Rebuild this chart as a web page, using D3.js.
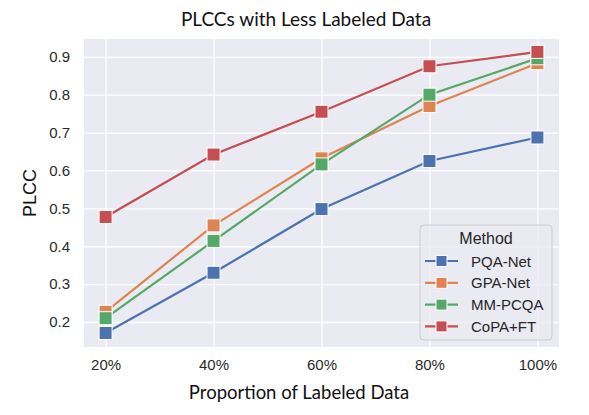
<!DOCTYPE html>
<meta charset="utf-8">
<script src="https://d3js.org/d3.v7.min.js"></script>
<style>
  body { margin: 0; background: #fff; }
</style>
<div id="chart"></div>
<script>
// data
var proportions = ["20%", "40%", "60%", "80%", "100%"];
var methods = ["PQA-Net", "GPA-Net", "MM-PCQA", "CoPA+FT"];
var pqaNet  = [0.171, 0.330, 0.498, 0.625, 0.687];
var gpaNet  = [0.227, 0.455, 0.632, 0.770, 0.883];
var mmPcqa  = [0.210, 0.414, 0.616, 0.800, 0.896];
var copaFt  = [0.477, 0.642, 0.755, 0.875, 0.913];
var yTicks  = [0.2, 0.3, 0.4, 0.5, 0.6, 0.7, 0.8, 0.9];
var colors  = ["#4C72B0", "#DD8452", "#55A868", "#C44E52"];

var series = [pqaNet, gpaNet, mmPcqa, copaFt];

var W = 589, H = 415;
var margin = {top: 39, right: 30, bottom: 68, left: 84},
    width = W - margin.left - margin.right,
    height = H - margin.top - margin.bottom;

var svg = d3.select("#chart").append("svg")
    .attr("width", W)
    .attr("height", H);

var g = svg.append("g")
    .attr("transform", "translate(" + margin.left + "," + margin.top + ")");

// seaborn darkgrid background
g.append("rect")
    .attr("width", width)
    .attr("height", height)
    .style("fill", "#EAEAF2");

var x = d3.scalePoint()
    .domain(proportions)
    .range([0, width])
    .padding(0.2);

var y = d3.scaleLinear()
    .domain([0.134, 0.947])
    .range([height, 0]);

// axes, grid lines as white ticks
var xAxis = g.append("g")
    .attr("transform", "translate(0," + height + ")")
    .call(d3.axisBottom(x).tickSize(-height).tickPadding(12));
xAxis.select(".domain").remove();

var yAxis = g.append("g")
    .call(d3.axisLeft(y).tickValues(yTicks).tickFormat(d3.format(".1f")).tickSize(-width).tickPadding(14));
yAxis.select(".domain").remove();

g.selectAll(".tick line").attr("stroke", "#fff").attr("stroke-width", 1.3);
g.selectAll(".tick text")
    .style("font-family", "'Liberation Sans', Arial, sans-serif")
    .style("font-size", "15px")
    .style("fill", "#2a2a2a");

// lines
var line = d3.line()
    .x(function(d, i) { return x(proportions[i]); })
    .y(function(d) { return y(d); });

series.forEach(function(s, k) {
  g.append("path")
      .datum(s)
      .attr("d", line)
      .attr("fill", "none")
      .attr("stroke", colors[k])
      .attr("stroke-width", 2.2);
});

// square markers
var ms = 13;
series.forEach(function(s, k) {
  g.append("g").selectAll("rect")
    .data(s)
    .enter()
    .append("rect")
      .attr("x", function(d, i) { return x(proportions[i]) - ms / 2; })
      .attr("y", function(d) { return y(d) - ms / 2; })
      .attr("width", ms)
      .attr("height", ms)
      .attr("fill", colors[k])
      .attr("stroke", "#fff")
      .attr("stroke-width", 1);
});

// title and axis labels
svg.append("text")
    .attr("x", 306)
    .attr("y", 26)
    .attr("text-anchor", "middle")
    .style("font-family", "Lato, sans-serif")
    .style("font-size", "19px")
    .style("fill", "#111")
    .text("PLCCs with Less Labeled Data");

svg.append("text")
    .attr("x", 299)
    .attr("y", 399)
    .attr("text-anchor", "middle")
    .style("font-family", "Lato, sans-serif")
    .style("font-size", "18.5px")
    .style("fill", "#111")
    .text("Proportion of Labeled Data");

svg.append("text")
    .attr("transform", "translate(36,193) rotate(-90)")
    .attr("text-anchor", "middle")
    .style("font-family", "'Liberation Sans', Arial, sans-serif")
    .style("font-size", "18px")
    .style("fill", "#111")
    .text("PLCC");

// legend
var lg = svg.append("g").attr("transform", "translate(420,225)");
lg.append("rect")
    .attr("width", 132)
    .attr("height", 115)
    .attr("rx", 4)
    .style("fill", "#EAEAF2")
    .style("fill-opacity", 0.8)
    .style("stroke", "#cccccc");

lg.append("text")
    .attr("x", 66)
    .attr("y", 19)
    .attr("text-anchor", "middle")
    .style("font-family", "'Liberation Sans', Arial, sans-serif")
    .style("font-size", "16px")
    .style("fill", "#262626")
    .text("Method");

var items = lg.selectAll(".item")
  .data(methods)
  .enter()
  .append("g")
    .attr("class", "item")
    .attr("transform", function(d, i) { return "translate(0," + (36 + i * 21.8) + ")"; });

items.append("line")
    .attr("x1", 5).attr("x2", 38)
    .attr("stroke", function(d, i) { return colors[i]; })
    .attr("stroke-width", 2.2);

items.append("rect")
    .attr("x", 21.5 - 5.5).attr("y", -5.5)
    .attr("width", 11).attr("height", 11)
    .attr("fill", function(d, i) { return colors[i]; })
    .attr("stroke", "#fff")
    .attr("stroke-width", 1);

items.append("text")
    .attr("x", 51)
    .attr("y", 5.5)
    .style("font-family", "'Liberation Sans', Arial, sans-serif")
    .style("font-size", "15px")
    .style("fill", "#262626")
    .text(function(d) { return d; });
</script>
